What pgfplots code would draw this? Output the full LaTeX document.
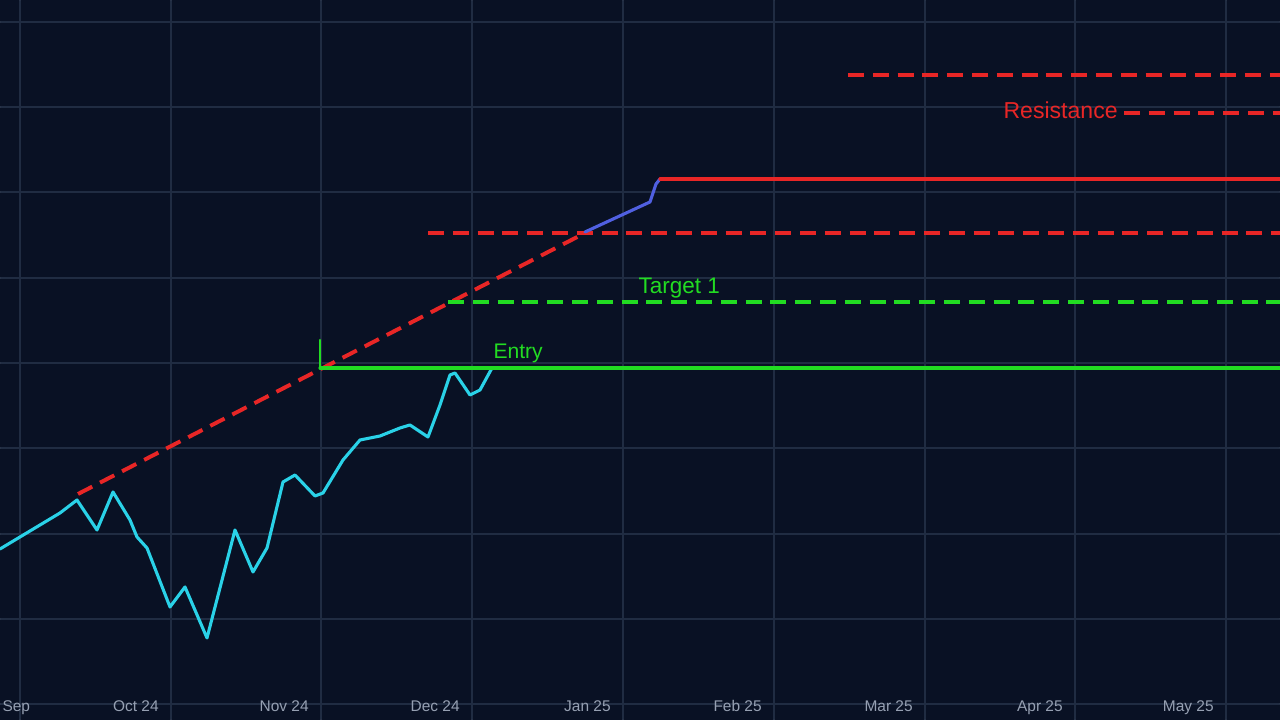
\documentclass[border=0pt]{standalone}
\usepackage{pgfplots}
\pgfplotsset{compat=1.18}
\usepackage{fontspec}
\setmainfont{Liberation Sans}
\definecolor{bg}{RGB}{9,17,36}
\definecolor{gridc}{RGB}{32,44,66}
\definecolor{tickc}{RGB}{150,160,178}
\definecolor{cyanl}{RGB}{42,210,232}
\definecolor{redl}{RGB}{232,38,38}
\definecolor{greenl}{RGB}{34,220,34}
\definecolor{bluel}{RGB}{80,96,225}
\begin{document}
\begin{tikzpicture}
\begin{axis}[
  width=16cm, height=9cm, scale only axis,
  xmin=0, xmax=1280, ymin=0, ymax=720,
  axis line style={draw=none},
  axis background/.style={fill=bg},
  grid=major,
  major grid style={gridc, line width=0.5pt},
  major tick length=0pt,
  xtick={20,171,321,472,623,774,925,1075,1226},
  xticklabels={,Oct 24,Nov 24,Dec 24,Jan 25,Feb 25,Mar 25,Apr 25,May 25},
  xticklabel style={anchor=base east, font=\fontsize{5.5}{6.5}\selectfont, text=tickc, yshift=1mm, xshift=-0.3mm},
  ytick={16,101,186,272,357,442,528,613,698},
  yticklabels={},
  clip=false,
  line cap=round, line join=round,
]
% price
\addplot[cyanl, line width=1.1pt, mark=none] coordinates {
(0,171)(20,183)(40,195)(60,207)(77,220)(97,190)(113,228)(130,200)(137,183)(147,172)
(170,113)(185,133)(207,82)(235,190)(253,148)(267,172)(283,238)(295,245)(315,224)(323,227)
(343,260)(360,280)(380,284)(400,292)(410,295)(428,283)(440,315)(450,345)(455,347)(470,325)
(480,330)(492,352)};
% red dashed trend
\addplot[redl, line width=1.4pt, dash pattern=on 2mm off 1.1mm, line cap=butt, mark=none] coordinates {(78,226)(585,487)};
\addplot[redl, line width=1.3pt, dash pattern=on 2mm off 1.1mm, line cap=butt, mark=none] coordinates {(428,487)(1280,487)};
\addplot[redl, line width=1.2pt, dash pattern=on 2mm off 1.1mm, line cap=butt, mark=none] coordinates {(848,645)(1280,645)};
\addplot[redl, line width=1.2pt, dash pattern=on 2mm off 1.1mm, line cap=butt, mark=none] coordinates {(1124,607)(1280,607)};
% blue projection
\addplot[bluel, line width=1.1pt, mark=none] coordinates {(585,488)(650,518)(656,536)(660,541)};
% red solid level
\addplot[redl, line width=1.1pt, mark=none] coordinates {(660,541)(1280,541)};
% green levels
\addplot[greenl, line width=1.3pt, dash pattern=on 2mm off 1.1mm, line cap=butt, mark=none] coordinates {(448,418)(1280,418)};
\addplot[greenl, line width=1.1pt, mark=none] coordinates {(320,352)(1280,352)};
\addplot[greenl, line width=0.8pt, mark=none] coordinates {(320,352)(320,380)};
% labels
\node[anchor=base west, text=tickc, font=\fontsize{5.5}{6.5}\selectfont, inner sep=0pt] at (axis cs:2,8) {Sep};
\node[anchor=west, text=redl, font=\fontsize{8.2}{9}\selectfont, inner sep=0pt] at (axis cs:1003,610) {Resistance};
\node[anchor=west, text=greenl, font=\fontsize{8}{9}\selectfont, inner sep=0pt] at (axis cs:638,432) {Target 1};
\node[anchor=west, text=greenl, font=\fontsize{7.5}{9}\selectfont, inner sep=0pt] at (axis cs:493,367) {Entry};
\end{axis}
\pgfresetboundingbox
\path (current axis.south west) rectangle (current axis.north east);
\end{tikzpicture}
\end{document}
